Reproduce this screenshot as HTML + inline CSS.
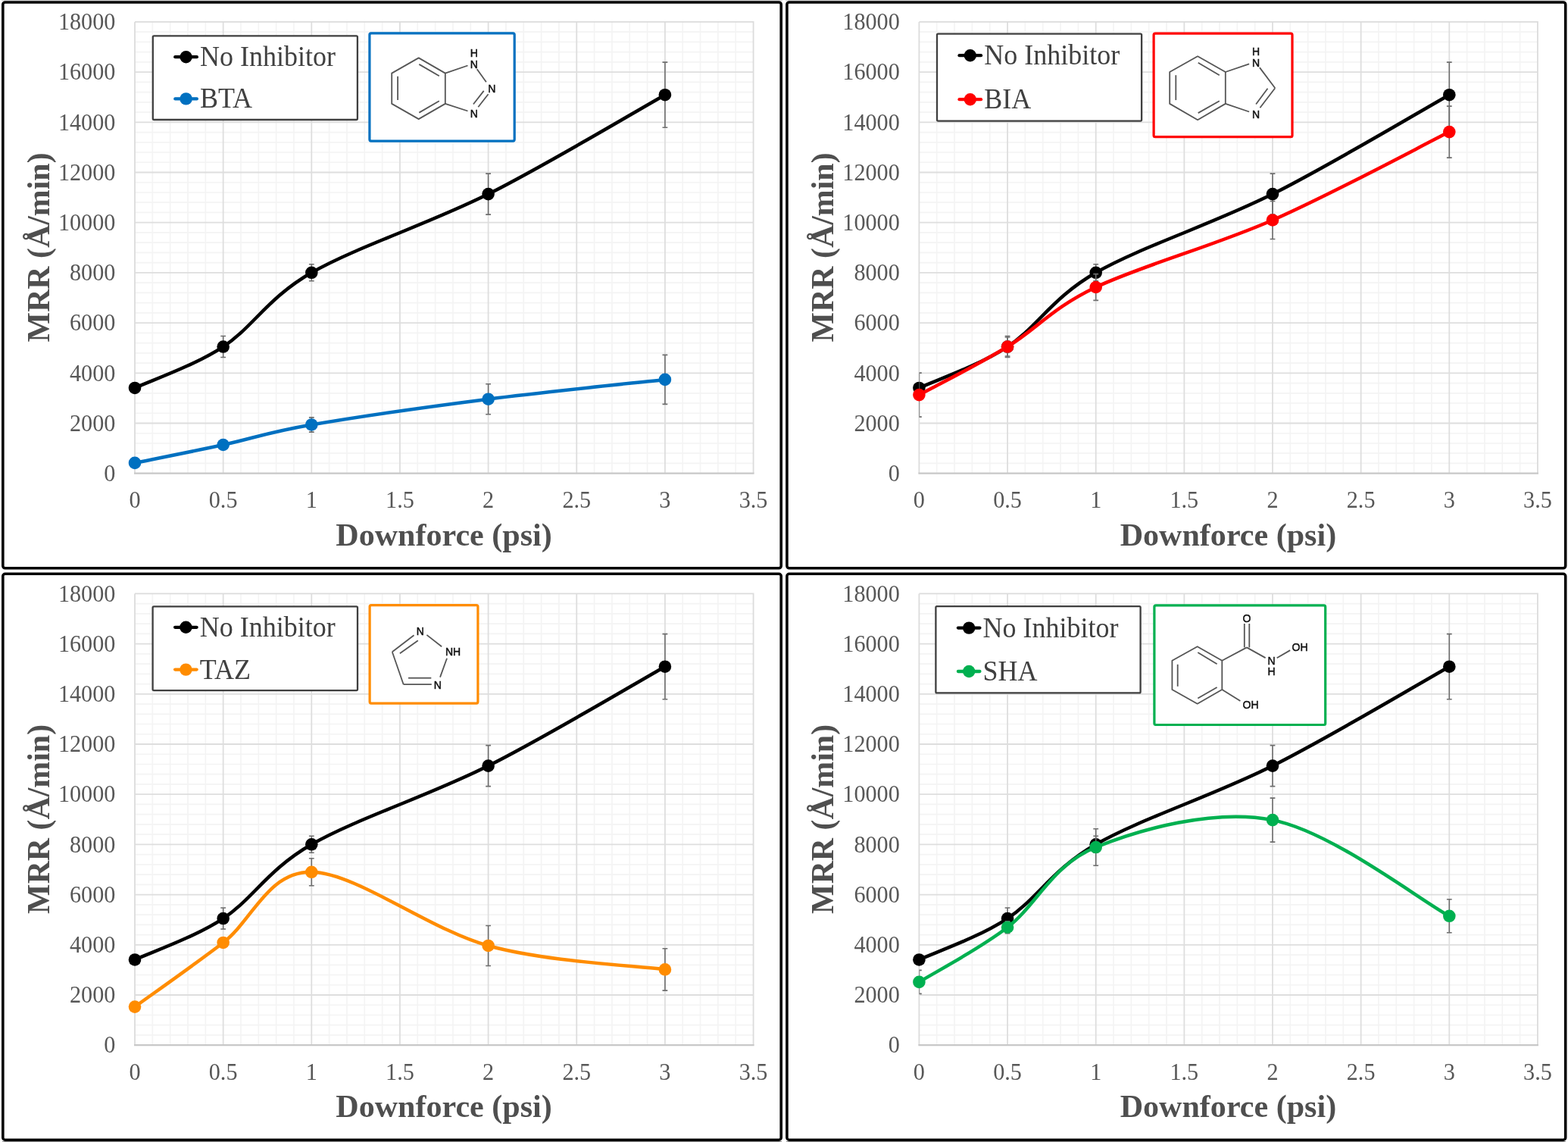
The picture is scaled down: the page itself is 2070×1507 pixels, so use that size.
<!DOCTYPE html>
<html><head><meta charset="utf-8"><title>MRR vs Downforce</title>
<style>
html,body{margin:0;padding:0;background:#fff;}
body{width:2070px;height:1507px;overflow:hidden;}
svg{display:block;}
text{font-family:'Liberation Serif','Times New Roman',serif;}
.mol text{font-family:'Liberation Sans',Arial,sans-serif;}
</style></head><body>
<svg width="2070" height="1507" viewBox="0 0 2070 1507">
<rect x="0" y="0" width="2070" height="1507" fill="#fff"/>
<rect x="3.8" y="3" width="1027.4" height="746.8" rx="3" fill="#fff" stroke="#000" stroke-width="3.6"/>
<g transform="translate(0,0)">
<clipPath id="pc0"><rect x="178" y="-1.1" width="846.55" height="655.8"/></clipPath>
<path d="M201.33,28.9V624.7M224.66,28.9V624.7M247.99,28.9V624.7M271.32,28.9V624.7M317.98,28.9V624.7M341.31,28.9V624.7M364.64,28.9V624.7M387.97,28.9V624.7M434.63,28.9V624.7M457.96,28.9V624.7M481.29,28.9V624.7M504.62,28.9V624.7M551.28,28.9V624.7M574.61,28.9V624.7M597.94,28.9V624.7M621.27,28.9V624.7M667.93,28.9V624.7M691.26,28.9V624.7M714.59,28.9V624.7M737.92,28.9V624.7M784.58,28.9V624.7M807.91,28.9V624.7M831.24,28.9V624.7M854.57,28.9V624.7M901.23,28.9V624.7M924.56,28.9V624.7M947.89,28.9V624.7M971.22,28.9V624.7M178,611.46H994.55M178,598.22H994.55M178,584.98H994.55M178,571.74H994.55M178,545.26H994.55M178,532.02H994.55M178,518.78H994.55M178,505.54H994.55M178,479.06H994.55M178,465.82H994.55M178,452.58H994.55M178,439.34H994.55M178,412.86H994.55M178,399.62H994.55M178,386.38H994.55M178,373.14H994.55M178,346.66H994.55M178,333.42H994.55M178,320.18H994.55M178,306.94H994.55M178,280.46H994.55M178,267.22H994.55M178,253.98H994.55M178,240.74H994.55M178,214.26H994.55M178,201.02H994.55M178,187.78H994.55M178,174.54H994.55M178,148.06H994.55M178,134.82H994.55M178,121.58H994.55M178,108.34H994.55M178,81.86H994.55M178,68.62H994.55M178,55.38H994.55M178,42.14H994.55" stroke="#f4f4f4" stroke-width="1.7" fill="none"/>
<path d="M294.65,28.9V624.7M411.3,28.9V624.7M527.95,28.9V624.7M644.6,28.9V624.7M761.25,28.9V624.7M877.9,28.9V624.7M178,558.5H994.55M178,492.3H994.55M178,426.1H994.55M178,359.9H994.55M178,293.7H994.55M178,227.5H994.55M178,161.3H994.55M178,95.1H994.55" stroke="#dedede" stroke-width="1.8" fill="none"/>
<path d="M178,624.7V28.9M178,28.9H994.55V624.7" stroke="#dcdcdc" stroke-width="1.8" fill="none"/>
<path d="M177,624.7H995.55" stroke="#c8c8c8" stroke-width="2.2" fill="none"/>
<g font-size="30.2" fill="#575757"><text transform="translate(152.4,634.9) scale(1,1.04)" text-anchor="end">0</text><text transform="translate(152.4,568.7) scale(1,1.04)" text-anchor="end">2000</text><text transform="translate(152.4,502.5) scale(1,1.04)" text-anchor="end">4000</text><text transform="translate(152.4,436.3) scale(1,1.04)" text-anchor="end">6000</text><text transform="translate(152.4,370.1) scale(1,1.04)" text-anchor="end">8000</text><text transform="translate(152.4,303.9) scale(1,1.04)" text-anchor="end">10000</text><text transform="translate(152.4,237.7) scale(1,1.04)" text-anchor="end">12000</text><text transform="translate(152.4,171.5) scale(1,1.04)" text-anchor="end">14000</text><text transform="translate(152.4,105.3) scale(1,1.04)" text-anchor="end">16000</text><text transform="translate(152.4,39.1) scale(1,1.04)" text-anchor="end">18000</text><text transform="translate(178,670.2) scale(1,1.04)" text-anchor="middle">0</text><text transform="translate(294.65,670.2) scale(1,1.04)" text-anchor="middle">0.5</text><text transform="translate(411.3,670.2) scale(1,1.04)" text-anchor="middle">1</text><text transform="translate(527.95,670.2) scale(1,1.04)" text-anchor="middle">1.5</text><text transform="translate(644.6,670.2) scale(1,1.04)" text-anchor="middle">2</text><text transform="translate(761.25,670.2) scale(1,1.04)" text-anchor="middle">2.5</text><text transform="translate(877.9,670.2) scale(1,1.04)" text-anchor="middle">3</text><text transform="translate(994.55,670.2) scale(1,1.04)" text-anchor="middle">3.5</text></g>
<text transform="translate(586.0,719.8) scale(1.014,1)" text-anchor="middle" font-size="41.5" font-weight="bold" fill="#4f4f4f">Downforce (psi)</text><text transform="translate(64.6,326.4) rotate(-90) scale(1.009,1)" text-anchor="middle" font-size="41.5" font-weight="bold" fill="#4f4f4f">MRR (Å/min)</text>
<path d="M294.65,443.51V471.51M291.25,443.51H298.05M291.25,471.51H298.05M411.3,348.81V370.79M407.9,348.81H414.7M407.9,370.79H414.7M644.6,229.09V283.11M641.2,229.09H648M641.2,283.11H648M877.9,82.16V168.22M874.5,82.16H881.3M874.5,168.22H881.3" stroke="#6e6e6e" stroke-width="1.6" fill="none" clip-path="url(#pc0)"/>
<path d="M178,511.99 C197.44,502.91 255.77,482.88 294.65,457.51 C333.53,432.15 352.98,393.37 411.3,359.8 C469.62,326.23 566.83,295.2 644.6,256.1 C722.37,217 839.02,147.01 877.9,125.19" stroke="#000000" stroke-width="4.5" fill="none" stroke-linejoin="round" stroke-linecap="round"/>
<circle cx="178" cy="511.99" r="8.3" fill="#000000"/>
<circle cx="294.65" cy="457.51" r="8.3" fill="#000000"/>
<circle cx="411.3" cy="359.8" r="8.3" fill="#000000"/>
<circle cx="644.6" cy="256.1" r="8.3" fill="#000000"/>
<circle cx="877.9" cy="125.19" r="8.3" fill="#000000"/>
<path d="M411.3,550.89V570.09M407.9,550.89H414.7M407.9,570.09H414.7M644.6,506.7V546.68M641.2,506.7H648M641.2,546.68H648M877.9,468.4V533.41M874.5,468.4H881.3M874.5,533.41H881.3" stroke="#6e6e6e" stroke-width="1.6" fill="none" clip-path="url(#pc0)"/>
<path d="M178,610.9 C197.44,606.91 255.77,595.4 294.65,587 C333.53,578.6 352.98,570.54 411.3,560.49 C469.62,550.43 566.83,536.62 644.6,526.69 C722.37,516.76 839.02,505.2 877.9,500.91" stroke="#0070C0" stroke-width="4.5" fill="none" stroke-linejoin="round" stroke-linecap="round"/>
<circle cx="178" cy="610.9" r="8.3" fill="#0070C0"/>
<circle cx="294.65" cy="587" r="8.3" fill="#0070C0"/>
<circle cx="411.3" cy="560.49" r="8.3" fill="#0070C0"/>
<circle cx="644.6" cy="526.69" r="8.3" fill="#0070C0"/>
<circle cx="877.9" cy="500.91" r="8.3" fill="#0070C0"/>
</g>
<rect x="201.8" y="47.3" width="270.1" height="110.7" fill="#fff" stroke="#3f3f3f" stroke-width="2.3" rx="1.5"/>
<path d="M231.3,75.2H259.8" stroke="#000" stroke-width="4.3" stroke-linecap="round"/>
<circle cx="245.6" cy="75.2" r="8.2" fill="#000"/>
<text transform="translate(264,87.1) scale(1,1.04)" font-size="36" fill="#404040">No Inhibitor</text>
<path d="M231.3,130.4H259.8" stroke="#0070C0" stroke-width="4.3" stroke-linecap="round"/>
<circle cx="245.6" cy="130.4" r="8.2" fill="#0070C0"/>
<text transform="translate(264,142.3) scale(1,1.04)" font-size="36" fill="#404040">BTA</text>
<rect x="487.9" y="43.9" width="191.3" height="142.2" fill="#fff" stroke="#0070C0" stroke-width="3.2" rx="2"/><g stroke="#555555" stroke-width="1.8" fill="none" stroke-linecap="butt" stroke-linejoin="round"><path d="M552.7,76.4 L587.8,96.6 L587.8,136.9 L552.7,157.1 L517.2,136.9 L517.2,96.6Z"/><path d="M553.3,84.9L579.8,100.3"/><path d="M525.1,100.8L525.1,132.1"/><path d="M553.3,148.6L579.8,133.2"/><path d="M587.8,96.6L617.5,86.5"/><path d="M629.7,91.3L641.9,108.3"/><path d="M644.6,124.2L631.3,141.2"/><path d="M638.7,119.9L624.9,137.5"/><path d="M587.8,136.9L617.5,146.5"/></g><g class="mol" font-size="14" fill="#111" stroke="#111" stroke-width="0.5"><text x="625.7" y="89.7" text-anchor="middle">N</text><text x="625.7" y="75.3" text-anchor="middle">H</text><text x="649.4" y="122.1" text-anchor="middle">N</text><text x="625.7" y="155" text-anchor="middle">N</text></g>
<rect x="1038.9" y="3" width="1027.8" height="746.8" rx="3" fill="#fff" stroke="#000" stroke-width="3.6"/>
<g transform="translate(1035.4,0)">
<clipPath id="pc1"><rect x="178" y="-1.1" width="846.55" height="655.8"/></clipPath>
<path d="M201.33,28.9V624.7M224.66,28.9V624.7M247.99,28.9V624.7M271.32,28.9V624.7M317.98,28.9V624.7M341.31,28.9V624.7M364.64,28.9V624.7M387.97,28.9V624.7M434.63,28.9V624.7M457.96,28.9V624.7M481.29,28.9V624.7M504.62,28.9V624.7M551.28,28.9V624.7M574.61,28.9V624.7M597.94,28.9V624.7M621.27,28.9V624.7M667.93,28.9V624.7M691.26,28.9V624.7M714.59,28.9V624.7M737.92,28.9V624.7M784.58,28.9V624.7M807.91,28.9V624.7M831.24,28.9V624.7M854.57,28.9V624.7M901.23,28.9V624.7M924.56,28.9V624.7M947.89,28.9V624.7M971.22,28.9V624.7M178,611.46H994.55M178,598.22H994.55M178,584.98H994.55M178,571.74H994.55M178,545.26H994.55M178,532.02H994.55M178,518.78H994.55M178,505.54H994.55M178,479.06H994.55M178,465.82H994.55M178,452.58H994.55M178,439.34H994.55M178,412.86H994.55M178,399.62H994.55M178,386.38H994.55M178,373.14H994.55M178,346.66H994.55M178,333.42H994.55M178,320.18H994.55M178,306.94H994.55M178,280.46H994.55M178,267.22H994.55M178,253.98H994.55M178,240.74H994.55M178,214.26H994.55M178,201.02H994.55M178,187.78H994.55M178,174.54H994.55M178,148.06H994.55M178,134.82H994.55M178,121.58H994.55M178,108.34H994.55M178,81.86H994.55M178,68.62H994.55M178,55.38H994.55M178,42.14H994.55" stroke="#f4f4f4" stroke-width="1.7" fill="none"/>
<path d="M294.65,28.9V624.7M411.3,28.9V624.7M527.95,28.9V624.7M644.6,28.9V624.7M761.25,28.9V624.7M877.9,28.9V624.7M178,558.5H994.55M178,492.3H994.55M178,426.1H994.55M178,359.9H994.55M178,293.7H994.55M178,227.5H994.55M178,161.3H994.55M178,95.1H994.55" stroke="#dedede" stroke-width="1.8" fill="none"/>
<path d="M178,624.7V28.9M178,28.9H994.55V624.7" stroke="#dcdcdc" stroke-width="1.8" fill="none"/>
<path d="M177,624.7H995.55" stroke="#c8c8c8" stroke-width="2.2" fill="none"/>
<g font-size="30.2" fill="#575757"><text transform="translate(152.4,634.9) scale(1,1.04)" text-anchor="end">0</text><text transform="translate(152.4,568.7) scale(1,1.04)" text-anchor="end">2000</text><text transform="translate(152.4,502.5) scale(1,1.04)" text-anchor="end">4000</text><text transform="translate(152.4,436.3) scale(1,1.04)" text-anchor="end">6000</text><text transform="translate(152.4,370.1) scale(1,1.04)" text-anchor="end">8000</text><text transform="translate(152.4,303.9) scale(1,1.04)" text-anchor="end">10000</text><text transform="translate(152.4,237.7) scale(1,1.04)" text-anchor="end">12000</text><text transform="translate(152.4,171.5) scale(1,1.04)" text-anchor="end">14000</text><text transform="translate(152.4,105.3) scale(1,1.04)" text-anchor="end">16000</text><text transform="translate(152.4,39.1) scale(1,1.04)" text-anchor="end">18000</text><text transform="translate(178,670.2) scale(1,1.04)" text-anchor="middle">0</text><text transform="translate(294.65,670.2) scale(1,1.04)" text-anchor="middle">0.5</text><text transform="translate(411.3,670.2) scale(1,1.04)" text-anchor="middle">1</text><text transform="translate(527.95,670.2) scale(1,1.04)" text-anchor="middle">1.5</text><text transform="translate(644.6,670.2) scale(1,1.04)" text-anchor="middle">2</text><text transform="translate(761.25,670.2) scale(1,1.04)" text-anchor="middle">2.5</text><text transform="translate(877.9,670.2) scale(1,1.04)" text-anchor="middle">3</text><text transform="translate(994.55,670.2) scale(1,1.04)" text-anchor="middle">3.5</text></g>
<text transform="translate(586.0,719.8) scale(1.014,1)" text-anchor="middle" font-size="41.5" font-weight="bold" fill="#4f4f4f">Downforce (psi)</text><text transform="translate(64.6,326.4) rotate(-90) scale(1.009,1)" text-anchor="middle" font-size="41.5" font-weight="bold" fill="#4f4f4f">MRR (Å/min)</text>
<path d="M294.65,443.51V471.51M291.25,443.51H298.05M291.25,471.51H298.05M411.3,348.81V370.79M407.9,348.81H414.7M407.9,370.79H414.7M644.6,229.09V283.11M641.2,229.09H648M641.2,283.11H648M877.9,82.16V168.22M874.5,82.16H881.3M874.5,168.22H881.3" stroke="#6e6e6e" stroke-width="1.6" fill="none" clip-path="url(#pc1)"/>
<path d="M178,511.99 C197.44,502.91 255.77,482.88 294.65,457.51 C333.53,432.15 352.98,393.37 411.3,359.8 C469.62,326.23 566.83,295.2 644.6,256.1 C722.37,217 839.02,147.01 877.9,125.19" stroke="#000000" stroke-width="4.5" fill="none" stroke-linejoin="round" stroke-linecap="round"/>
<circle cx="178" cy="511.99" r="8.3" fill="#000000"/>
<circle cx="294.65" cy="457.51" r="8.3" fill="#000000"/>
<circle cx="411.3" cy="359.8" r="8.3" fill="#000000"/>
<circle cx="644.6" cy="256.1" r="8.3" fill="#000000"/>
<circle cx="877.9" cy="125.19" r="8.3" fill="#000000"/>
<path d="M178,492.1V550.09M174.6,492.1H181.4M174.6,550.09H181.4M294.65,445V470.02M291.25,445H298.05M291.25,470.02H298.05M411.3,361.59V396.41M407.9,361.59H414.7M407.9,396.41H414.7M644.6,265.5V315.48M641.2,265.5H648M641.2,315.48H648M877.9,140.12V208.1M874.5,140.12H881.3M874.5,208.1H881.3" stroke="#6e6e6e" stroke-width="1.6" fill="none" clip-path="url(#pc1)"/>
<path d="M178,521.1 C197.44,510.5 255.77,481.19 294.65,457.51 C333.53,433.83 352.98,406.84 411.3,379 C469.62,351.16 566.83,324.64 644.6,290.49 C722.37,256.34 839.02,193.51 877.9,174.11" stroke="#FF0000" stroke-width="4.5" fill="none" stroke-linejoin="round" stroke-linecap="round"/>
<circle cx="178" cy="521.1" r="8.3" fill="#FF0000"/>
<circle cx="294.65" cy="457.51" r="8.3" fill="#FF0000"/>
<circle cx="411.3" cy="379" r="8.3" fill="#FF0000"/>
<circle cx="644.6" cy="290.49" r="8.3" fill="#FF0000"/>
<circle cx="877.9" cy="174.11" r="8.3" fill="#FF0000"/>
</g>
<rect x="1237" y="44.6" width="270.1" height="115" fill="#fff" stroke="#3f3f3f" stroke-width="2.3" rx="1.5"/>
<path d="M1266.5,73.2H1295" stroke="#000" stroke-width="4.3" stroke-linecap="round"/>
<circle cx="1280.8" cy="73.2" r="8.2" fill="#000"/>
<text transform="translate(1299.2,85.1) scale(1,1.04)" font-size="36" fill="#404040">No Inhibitor</text>
<path d="M1266.5,131.2H1295" stroke="#FF0000" stroke-width="4.3" stroke-linecap="round"/>
<circle cx="1280.8" cy="131.2" r="8.2" fill="#FF0000"/>
<text transform="translate(1299.2,143.1) scale(1,1.04)" font-size="36" fill="#404040">BIA</text>
<rect x="1523.1" y="44.2" width="182.9" height="136.5" fill="#fff" stroke="#FF0000" stroke-width="3.2" rx="2"/><g stroke="#555555" stroke-width="1.8" fill="none" stroke-linecap="butt" stroke-linejoin="round"><path d="M1581.1,74.3 L1617.8,95 L1617.8,136.9 L1581.1,158.2 L1544.2,136.9 L1544.2,95Z"/><path d="M1581.7,82.8L1609.8,99.2"/><path d="M1552.3,99.2L1552.3,132.1"/><path d="M1581.7,149.1L1609.8,133.2"/><path d="M1617.8,95L1649.1,84.4"/><path d="M1662.9,89.1L1683.3,116.2"/><path d="M1683.3,116.2L1663.4,142.2"/><path d="M1673.5,116.8L1658.1,137.5"/><path d="M1617.8,136.9L1649.1,147.5"/></g><g class="mol" font-size="14" fill="#111" stroke="#111" stroke-width="0.5"><text x="1658.1" y="87.6" text-anchor="middle">N</text><text x="1658.1" y="72.7" text-anchor="middle">H</text><text x="1658.1" y="156" text-anchor="middle">N</text></g>
<rect x="3.8" y="757.3" width="1027.4" height="746.9" rx="3" fill="#fff" stroke="#000" stroke-width="3.6"/>
<g transform="translate(0,754.5)">
<clipPath id="pc2"><rect x="178" y="-1.1" width="846.55" height="655.8"/></clipPath>
<path d="M201.33,28.9V624.7M224.66,28.9V624.7M247.99,28.9V624.7M271.32,28.9V624.7M317.98,28.9V624.7M341.31,28.9V624.7M364.64,28.9V624.7M387.97,28.9V624.7M434.63,28.9V624.7M457.96,28.9V624.7M481.29,28.9V624.7M504.62,28.9V624.7M551.28,28.9V624.7M574.61,28.9V624.7M597.94,28.9V624.7M621.27,28.9V624.7M667.93,28.9V624.7M691.26,28.9V624.7M714.59,28.9V624.7M737.92,28.9V624.7M784.58,28.9V624.7M807.91,28.9V624.7M831.24,28.9V624.7M854.57,28.9V624.7M901.23,28.9V624.7M924.56,28.9V624.7M947.89,28.9V624.7M971.22,28.9V624.7M178,611.46H994.55M178,598.22H994.55M178,584.98H994.55M178,571.74H994.55M178,545.26H994.55M178,532.02H994.55M178,518.78H994.55M178,505.54H994.55M178,479.06H994.55M178,465.82H994.55M178,452.58H994.55M178,439.34H994.55M178,412.86H994.55M178,399.62H994.55M178,386.38H994.55M178,373.14H994.55M178,346.66H994.55M178,333.42H994.55M178,320.18H994.55M178,306.94H994.55M178,280.46H994.55M178,267.22H994.55M178,253.98H994.55M178,240.74H994.55M178,214.26H994.55M178,201.02H994.55M178,187.78H994.55M178,174.54H994.55M178,148.06H994.55M178,134.82H994.55M178,121.58H994.55M178,108.34H994.55M178,81.86H994.55M178,68.62H994.55M178,55.38H994.55M178,42.14H994.55" stroke="#f4f4f4" stroke-width="1.7" fill="none"/>
<path d="M294.65,28.9V624.7M411.3,28.9V624.7M527.95,28.9V624.7M644.6,28.9V624.7M761.25,28.9V624.7M877.9,28.9V624.7M178,558.5H994.55M178,492.3H994.55M178,426.1H994.55M178,359.9H994.55M178,293.7H994.55M178,227.5H994.55M178,161.3H994.55M178,95.1H994.55" stroke="#dedede" stroke-width="1.8" fill="none"/>
<path d="M178,624.7V28.9M178,28.9H994.55V624.7" stroke="#dcdcdc" stroke-width="1.8" fill="none"/>
<path d="M177,624.7H995.55" stroke="#c8c8c8" stroke-width="2.2" fill="none"/>
<g font-size="30.2" fill="#575757"><text transform="translate(152.4,634.9) scale(1,1.04)" text-anchor="end">0</text><text transform="translate(152.4,568.7) scale(1,1.04)" text-anchor="end">2000</text><text transform="translate(152.4,502.5) scale(1,1.04)" text-anchor="end">4000</text><text transform="translate(152.4,436.3) scale(1,1.04)" text-anchor="end">6000</text><text transform="translate(152.4,370.1) scale(1,1.04)" text-anchor="end">8000</text><text transform="translate(152.4,303.9) scale(1,1.04)" text-anchor="end">10000</text><text transform="translate(152.4,237.7) scale(1,1.04)" text-anchor="end">12000</text><text transform="translate(152.4,171.5) scale(1,1.04)" text-anchor="end">14000</text><text transform="translate(152.4,105.3) scale(1,1.04)" text-anchor="end">16000</text><text transform="translate(152.4,39.1) scale(1,1.04)" text-anchor="end">18000</text><text transform="translate(178,670.2) scale(1,1.04)" text-anchor="middle">0</text><text transform="translate(294.65,670.2) scale(1,1.04)" text-anchor="middle">0.5</text><text transform="translate(411.3,670.2) scale(1,1.04)" text-anchor="middle">1</text><text transform="translate(527.95,670.2) scale(1,1.04)" text-anchor="middle">1.5</text><text transform="translate(644.6,670.2) scale(1,1.04)" text-anchor="middle">2</text><text transform="translate(761.25,670.2) scale(1,1.04)" text-anchor="middle">2.5</text><text transform="translate(877.9,670.2) scale(1,1.04)" text-anchor="middle">3</text><text transform="translate(994.55,670.2) scale(1,1.04)" text-anchor="middle">3.5</text></g>
<text transform="translate(586.0,719.8) scale(1.014,1)" text-anchor="middle" font-size="41.5" font-weight="bold" fill="#4f4f4f">Downforce (psi)</text><text transform="translate(64.6,326.4) rotate(-90) scale(1.009,1)" text-anchor="middle" font-size="41.5" font-weight="bold" fill="#4f4f4f">MRR (Å/min)</text>
<path d="M294.65,443.51V471.51M291.25,443.51H298.05M291.25,471.51H298.05M411.3,348.81V370.79M407.9,348.81H414.7M407.9,370.79H414.7M644.6,229.09V283.11M641.2,229.09H648M641.2,283.11H648M877.9,82.16V168.22M874.5,82.16H881.3M874.5,168.22H881.3" stroke="#6e6e6e" stroke-width="1.6" fill="none" clip-path="url(#pc2)"/>
<path d="M178,511.99 C197.44,502.91 255.77,482.88 294.65,457.51 C333.53,432.15 352.98,393.37 411.3,359.8 C469.62,326.23 566.83,295.2 644.6,256.1 C722.37,217 839.02,147.01 877.9,125.19" stroke="#000000" stroke-width="4.5" fill="none" stroke-linejoin="round" stroke-linecap="round"/>
<circle cx="178" cy="511.99" r="8.3" fill="#000000"/>
<circle cx="294.65" cy="457.51" r="8.3" fill="#000000"/>
<circle cx="411.3" cy="359.8" r="8.3" fill="#000000"/>
<circle cx="644.6" cy="256.1" r="8.3" fill="#000000"/>
<circle cx="877.9" cy="125.19" r="8.3" fill="#000000"/>
<path d="M411.3,378.3V414.32M407.9,378.3H414.7M407.9,414.32H414.7M644.6,467.01V519.97M641.2,467.01H648M641.2,519.97H648M877.9,497.2V552.61M874.5,497.2H881.3M874.5,552.61H881.3" stroke="#6e6e6e" stroke-width="1.6" fill="none" clip-path="url(#pc2)"/>
<path d="M178,574.09 C197.44,559.99 255.77,519.12 294.65,489.49 C333.53,459.86 352.98,395.64 411.3,396.31 C469.62,396.98 566.83,472.06 644.6,493.49 C722.37,514.92 839.02,519.67 877.9,524.9" stroke="#FF8C00" stroke-width="4.5" fill="none" stroke-linejoin="round" stroke-linecap="round"/>
<circle cx="178" cy="574.09" r="8.3" fill="#FF8C00"/>
<circle cx="294.65" cy="489.49" r="8.3" fill="#FF8C00"/>
<circle cx="411.3" cy="396.31" r="8.3" fill="#FF8C00"/>
<circle cx="644.6" cy="493.49" r="8.3" fill="#FF8C00"/>
<circle cx="877.9" cy="524.9" r="8.3" fill="#FF8C00"/>
</g>
<rect x="201.6" y="800.4" width="270.4" height="110.7" fill="#fff" stroke="#3f3f3f" stroke-width="2.3" rx="1.5"/>
<path d="M231.1,827.8H259.6" stroke="#000" stroke-width="4.3" stroke-linecap="round"/>
<circle cx="245.4" cy="827.8" r="8.2" fill="#000"/>
<text transform="translate(263.8,839.7) scale(1,1.04)" font-size="36" fill="#404040">No Inhibitor</text>
<path d="M231.1,883.6H259.6" stroke="#FF8C00" stroke-width="4.3" stroke-linecap="round"/>
<circle cx="245.4" cy="883.6" r="8.2" fill="#FF8C00"/>
<text transform="translate(263.8,895.5) scale(1,1.04)" font-size="36" fill="#404040">TAZ</text>
<rect x="488.1" y="798.6" width="142.8" height="129.5" fill="#fff" stroke="#FF8C00" stroke-width="3.2" rx="2"/><g stroke="#555555" stroke-width="1.8" fill="none" stroke-linecap="butt" stroke-linejoin="round"><path d="M517.8,860.2L546.5,838.2"/><path d="M527.9,862.3L551.8,845.3"/><path d="M563.4,837.9L583.1,853.3"/><path d="M590,868.7L581,893.6"/><path d="M569.8,903.2L532.7,903.2"/><path d="M569.3,894.7L539,894.7"/><path d="M532.7,903.2L517.8,860.2"/></g><g class="mol" font-size="14" fill="#111" stroke="#111" stroke-width="0.5"><text x="554.7" y="837.9" text-anchor="middle">N</text><text x="598" y="865" text-anchor="middle">NH</text><text x="577.8" y="908.5" text-anchor="middle">N</text></g>
<rect x="1038.9" y="757.3" width="1027.8" height="746.9" rx="3" fill="#fff" stroke="#000" stroke-width="3.6"/>
<g transform="translate(1035.4,754.5)">
<clipPath id="pc3"><rect x="178" y="-1.1" width="846.55" height="655.8"/></clipPath>
<path d="M201.33,28.9V624.7M224.66,28.9V624.7M247.99,28.9V624.7M271.32,28.9V624.7M317.98,28.9V624.7M341.31,28.9V624.7M364.64,28.9V624.7M387.97,28.9V624.7M434.63,28.9V624.7M457.96,28.9V624.7M481.29,28.9V624.7M504.62,28.9V624.7M551.28,28.9V624.7M574.61,28.9V624.7M597.94,28.9V624.7M621.27,28.9V624.7M667.93,28.9V624.7M691.26,28.9V624.7M714.59,28.9V624.7M737.92,28.9V624.7M784.58,28.9V624.7M807.91,28.9V624.7M831.24,28.9V624.7M854.57,28.9V624.7M901.23,28.9V624.7M924.56,28.9V624.7M947.89,28.9V624.7M971.22,28.9V624.7M178,611.46H994.55M178,598.22H994.55M178,584.98H994.55M178,571.74H994.55M178,545.26H994.55M178,532.02H994.55M178,518.78H994.55M178,505.54H994.55M178,479.06H994.55M178,465.82H994.55M178,452.58H994.55M178,439.34H994.55M178,412.86H994.55M178,399.62H994.55M178,386.38H994.55M178,373.14H994.55M178,346.66H994.55M178,333.42H994.55M178,320.18H994.55M178,306.94H994.55M178,280.46H994.55M178,267.22H994.55M178,253.98H994.55M178,240.74H994.55M178,214.26H994.55M178,201.02H994.55M178,187.78H994.55M178,174.54H994.55M178,148.06H994.55M178,134.82H994.55M178,121.58H994.55M178,108.34H994.55M178,81.86H994.55M178,68.62H994.55M178,55.38H994.55M178,42.14H994.55" stroke="#f4f4f4" stroke-width="1.7" fill="none"/>
<path d="M294.65,28.9V624.7M411.3,28.9V624.7M527.95,28.9V624.7M644.6,28.9V624.7M761.25,28.9V624.7M877.9,28.9V624.7M178,558.5H994.55M178,492.3H994.55M178,426.1H994.55M178,359.9H994.55M178,293.7H994.55M178,227.5H994.55M178,161.3H994.55M178,95.1H994.55" stroke="#dedede" stroke-width="1.8" fill="none"/>
<path d="M178,624.7V28.9M178,28.9H994.55V624.7" stroke="#dcdcdc" stroke-width="1.8" fill="none"/>
<path d="M177,624.7H995.55" stroke="#c8c8c8" stroke-width="2.2" fill="none"/>
<g font-size="30.2" fill="#575757"><text transform="translate(152.4,634.9) scale(1,1.04)" text-anchor="end">0</text><text transform="translate(152.4,568.7) scale(1,1.04)" text-anchor="end">2000</text><text transform="translate(152.4,502.5) scale(1,1.04)" text-anchor="end">4000</text><text transform="translate(152.4,436.3) scale(1,1.04)" text-anchor="end">6000</text><text transform="translate(152.4,370.1) scale(1,1.04)" text-anchor="end">8000</text><text transform="translate(152.4,303.9) scale(1,1.04)" text-anchor="end">10000</text><text transform="translate(152.4,237.7) scale(1,1.04)" text-anchor="end">12000</text><text transform="translate(152.4,171.5) scale(1,1.04)" text-anchor="end">14000</text><text transform="translate(152.4,105.3) scale(1,1.04)" text-anchor="end">16000</text><text transform="translate(152.4,39.1) scale(1,1.04)" text-anchor="end">18000</text><text transform="translate(178,670.2) scale(1,1.04)" text-anchor="middle">0</text><text transform="translate(294.65,670.2) scale(1,1.04)" text-anchor="middle">0.5</text><text transform="translate(411.3,670.2) scale(1,1.04)" text-anchor="middle">1</text><text transform="translate(527.95,670.2) scale(1,1.04)" text-anchor="middle">1.5</text><text transform="translate(644.6,670.2) scale(1,1.04)" text-anchor="middle">2</text><text transform="translate(761.25,670.2) scale(1,1.04)" text-anchor="middle">2.5</text><text transform="translate(877.9,670.2) scale(1,1.04)" text-anchor="middle">3</text><text transform="translate(994.55,670.2) scale(1,1.04)" text-anchor="middle">3.5</text></g>
<text transform="translate(586.0,719.8) scale(1.014,1)" text-anchor="middle" font-size="41.5" font-weight="bold" fill="#4f4f4f">Downforce (psi)</text><text transform="translate(64.6,326.4) rotate(-90) scale(1.009,1)" text-anchor="middle" font-size="41.5" font-weight="bold" fill="#4f4f4f">MRR (Å/min)</text>
<path d="M294.65,443.51V471.51M291.25,443.51H298.05M291.25,471.51H298.05M411.3,348.81V370.79M407.9,348.81H414.7M407.9,370.79H414.7M644.6,229.09V283.11M641.2,229.09H648M641.2,283.11H648M877.9,82.16V168.22M874.5,82.16H881.3M874.5,168.22H881.3" stroke="#6e6e6e" stroke-width="1.6" fill="none" clip-path="url(#pc3)"/>
<path d="M178,511.99 C197.44,502.91 255.77,482.88 294.65,457.51 C333.53,432.15 352.98,393.37 411.3,359.8 C469.62,326.23 566.83,295.2 644.6,256.1 C722.37,217 839.02,147.01 877.9,125.19" stroke="#000000" stroke-width="4.5" fill="none" stroke-linejoin="round" stroke-linecap="round"/>
<circle cx="178" cy="511.99" r="8.3" fill="#000000"/>
<circle cx="294.65" cy="457.51" r="8.3" fill="#000000"/>
<circle cx="411.3" cy="359.8" r="8.3" fill="#000000"/>
<circle cx="644.6" cy="256.1" r="8.3" fill="#000000"/>
<circle cx="877.9" cy="125.19" r="8.3" fill="#000000"/>
<path d="M178,525.9V556.88M174.6,525.9H181.4M174.6,556.88H181.4M294.65,461.19V477.21M291.25,461.19H298.05M291.25,477.21H298.05M411.3,339.21V387.8M407.9,339.21H414.7M407.9,387.8H414.7M644.6,298.6V356.59M641.2,298.6H648M641.2,356.59H648M877.9,432.29V476.31M874.5,432.29H881.3M874.5,476.31H881.3" stroke="#6e6e6e" stroke-width="1.6" fill="none" clip-path="url(#pc3)"/>
<path d="M178,541.39 C197.44,529.36 255.77,498.84 294.65,469.2 C333.53,439.55 352.98,387.11 411.3,363.51 C469.62,339.91 566.83,312.46 644.6,327.59 C722.37,342.73 839.02,433.18 877.9,454.3" stroke="#00B050" stroke-width="4.5" fill="none" stroke-linejoin="round" stroke-linecap="round"/>
<circle cx="178" cy="541.39" r="8.3" fill="#00B050"/>
<circle cx="294.65" cy="469.2" r="8.3" fill="#00B050"/>
<circle cx="411.3" cy="363.51" r="8.3" fill="#00B050"/>
<circle cx="644.6" cy="327.59" r="8.3" fill="#00B050"/>
<circle cx="877.9" cy="454.3" r="8.3" fill="#00B050"/>
</g>
<rect x="1235.4" y="800.1" width="270.2" height="114.3" fill="#fff" stroke="#3f3f3f" stroke-width="2.3" rx="1.5"/>
<path d="M1264.9,828.6H1293.4" stroke="#000" stroke-width="4.3" stroke-linecap="round"/>
<circle cx="1279.2" cy="828.6" r="8.2" fill="#000"/>
<text transform="translate(1297.6,840.5) scale(1,1.04)" font-size="36" fill="#404040">No Inhibitor</text>
<path d="M1264.9,886H1293.4" stroke="#00B050" stroke-width="4.3" stroke-linecap="round"/>
<circle cx="1279.2" cy="886" r="8.2" fill="#00B050"/>
<text transform="translate(1297.6,897.9) scale(1,1.04)" font-size="36" fill="#404040">SHA</text>
<rect x="1523.9" y="798.9" width="225.8" height="157.6" fill="#fff" stroke="#00B050" stroke-width="3.2" rx="2"/><g stroke="#555555" stroke-width="1.8" fill="none" stroke-linecap="butt" stroke-linejoin="round"><path d="M1580.7,853.2 L1613.3,871.7 L1613.3,910 L1580.7,928.7 L1547.4,910 L1547.4,871.7Z"/><path d="M1581.3,861.1L1606.6,876.2"/><path d="M1554.7,876.8L1554.7,905.8"/><path d="M1581.3,921.5L1606.6,907"/><path d="M1613.3,871.7L1645.9,854.4"/><path d="M1642.8,854.4L1642.8,823"/><path d="M1649.3,854.4L1649.3,823"/><path d="M1645.9,854.4L1670.6,868.1"/><path d="M1685.7,868.3L1703.2,858.1"/><path d="M1613.3,910L1637.4,925.1"/></g><g class="mol" font-size="14" fill="#111" stroke="#111" stroke-width="0.5"><text x="1645.9" y="820.6" text-anchor="middle">O</text><text x="1678.5" y="876.8" text-anchor="middle">N</text><text x="1678.5" y="890.7" text-anchor="middle">H</text><text x="1716" y="858.7" text-anchor="middle">OH</text><text x="1651" y="934.8" text-anchor="middle">OH</text></g>
<path d="M2,0.5H1033M1037,0.5H2068" stroke="#d8d8d8" stroke-width="1"/><path d="M3,1506.5H1032M1038,1506.5H2067" stroke="#8f8f8f" stroke-width="1"/>
</svg>
</body></html>
